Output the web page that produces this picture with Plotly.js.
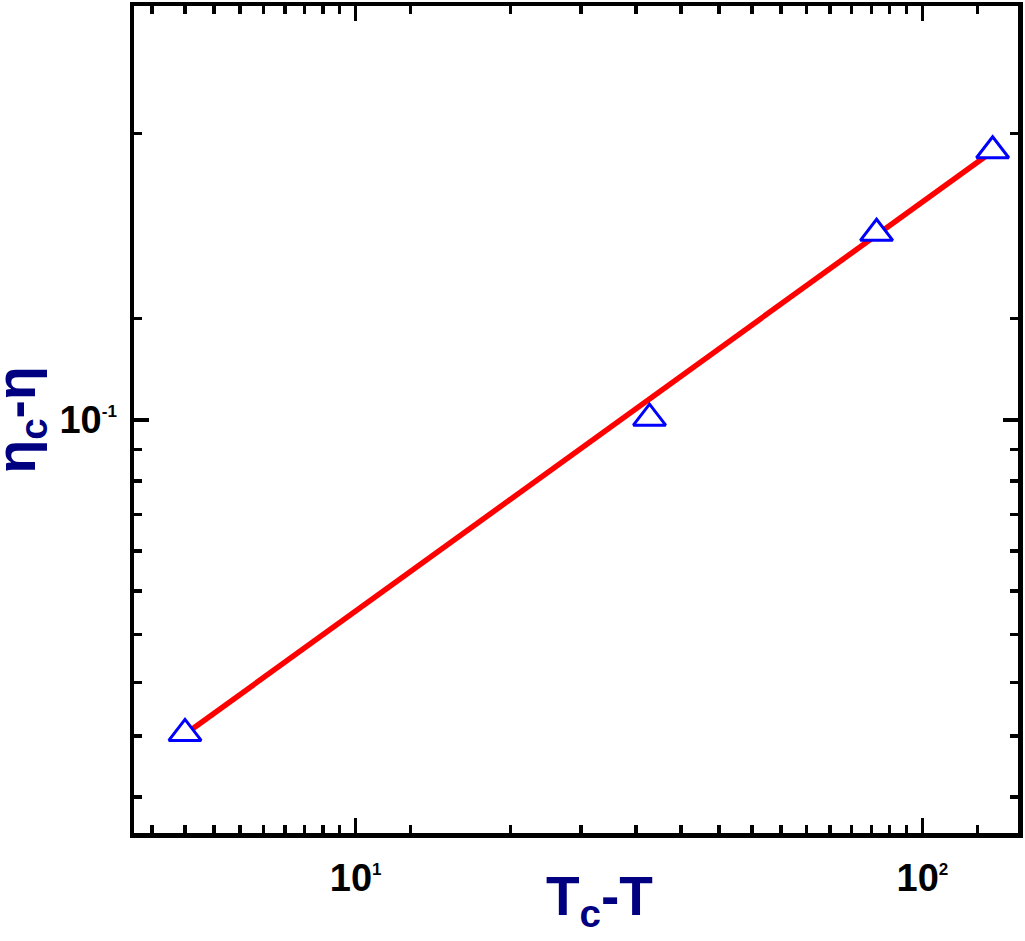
<!DOCTYPE html>
<html>
<head>
<meta charset="utf-8">
<script src="https://cdn.plot.ly/plotly-3.0.1.min.js"></script>
<style>
  html, body { margin: 0; padding: 0; background: #fff; }
  #chart { width: 1025px; height: 941px; }
</style>
</head>
<body>
<div id="chart"></div>
<script>
// Data points (Tc - T, eta_c - eta)
const tcMinusT = [5.0, 33.0, 83.0, 133.0];
const etaDiff = [0.0503, 0.1004, 0.1506, 0.1805];

// Power-law fit line endpoints
const fitX = [5.0, 133.0];
const fitY = [0.0502, 0.1803];

// Axis ticks
const xMajorVals = [10, 100];
const xMajorText = ['10<sup><span style="font-size:17px">1</span></sup>', '10<sup><span style="font-size:17px">2</span></sup>'];
const xMinorVals = [4.375, 5, 5.625, 6.25, 6.875, 7.5, 8.125, 8.75, 9.375,
  12.5, 18.75, 25, 31.25, 37.5, 43.75, 50, 56.25, 62.5, 68.75, 75, 81.25, 87.5, 93.75, 125];
const yMajorVals = [0.1];
const yMajorText = ['10<sup><span style="font-size:17px">-1</span></sup>'];
const yMinorVals = [0.04375, 0.05, 0.05625, 0.0625, 0.06875, 0.075, 0.08125, 0.0875, 0.09375, 0.125, 0.1875];

// Axis titles
const xTitle = 'T<sub>c</sub>-T';
const yTitle = 'η<sub>c</sub>-η';

const fontFam = '"Liberation Sans", Arial, Helvetica, sans-serif';
const titleFont = { family: fontFam, size: 55, color: '#000080', weight: 'bold' };

const traces = [
  {
    x: fitX, y: fitY, type: 'scatter', mode: 'lines',
    line: { color: '#ff0000', width: 5.5 },
    hoverinfo: 'skip', showlegend: false
  },
  {
    x: tcMinusT, y: etaDiff, type: 'scatter', mode: 'markers',
    marker: { symbol: 'triangle-up', size: 28, color: '#ffffff',
      line: { color: '#0000ff', width: 3 } },
    showlegend: false
  }
];

const axisCommon = {
  type: 'log',
  showgrid: false, zeroline: false,
  showline: true, linecolor: '#000', linewidth: 4.5, mirror: 'ticks',
  ticks: 'inside', ticklen: 15, tickwidth: 3.5, tickcolor: '#000',
  tickmode: 'array',
  tickfont: { family: fontFam, size: 38, color: '#000', weight: 'bold' }
};

const layout = {
  width: 1025, height: 941,
  margin: { l: 134, r: 7, t: 6, b: 108, pad: 0 },
  paper_bgcolor: '#fff', plot_bgcolor: '#fff',
  showlegend: false,
  xaxis: Object.assign({}, axisCommon, {
    range: [0.609, 2.1686],
    tickvals: xMajorVals, ticktext: xMajorText,
    ticklabelstandoff: 8,
    minor: { tickmode: 'array', tickvals: xMinorVals, ticks: 'inside', ticklen: 8, tickwidth: 3.5, tickcolor: '#000', showgrid: false }
  }),
  yaxis: Object.assign({}, axisCommon, {
    range: [-1.3933, -0.6057],
    tickvals: yMajorVals, ticktext: yMajorText,
    ticklabelstandoff: 5,
    minor: { tickmode: 'array', tickvals: yMinorVals, ticks: 'inside', ticklen: 8, tickwidth: 3.5, tickcolor: '#000', showgrid: false }
  }),
  annotations: [
    { text: xTitle, xref: 'paper', yref: 'paper', x: 0.527, y: -0.081,
      xanchor: 'center', yanchor: 'middle', showarrow: false, font: titleFont },
    { text: yTitle, xref: 'paper', yref: 'paper', x: -0.129, y: 0.5, textangle: -90,
      xanchor: 'center', yanchor: 'middle', showarrow: false, font: titleFont }
  ]
};

Plotly.newPlot('chart', traces, layout, { staticPlot: true, displayModeBar: false });
</script>
</body>
</html>
